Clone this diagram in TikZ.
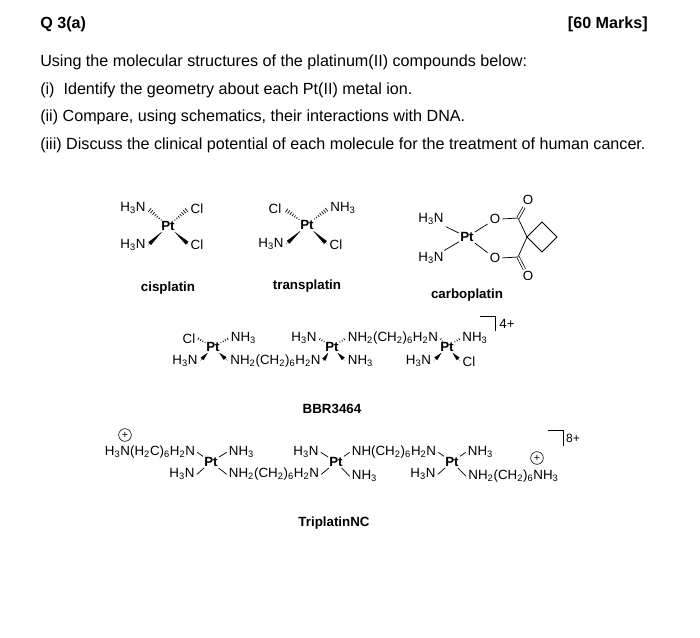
\documentclass[tikz,border=0pt]{standalone}
\usepackage{fontspec}
\setmainfont{Liberation Sans}
\usetikzlibrary{arrows.meta,decorations.markings}
\tikzset{
  question/.style={anchor=west, inner sep=0pt, yshift=-.75pt, font=\fontsize{12.1}{14}\selectfont},
  atom/.style={inner sep=1.5pt, yshift=-1pt, font=\fontsize{10}{12}\selectfont},
  metal/.style={inner sep=.8pt, font=\fontsize{10}{12}\selectfont\bfseries},
  title/.style={inner sep=0pt, yshift=-.75pt, font=\fontsize{10}{12}\selectfont\bfseries},
  charge/.style={circle, draw, line width=.45pt, inner sep=0pt, minimum size=9.5pt, font=\fontsize{8}{8}\selectfont},
  bond/.style={line width=.55pt},
  wedgebond/.style={{Triangle[length=#1,width=2.8pt]}-, line width=.05pt},
  wedgebond/.default=12.5pt,
  hashbond/.style={decorate, decoration={markings, mark=between positions 0 and .9 step 1.9pt with {
    \pgfmathsetmacro\hw{.25+.2*\pgfkeysvalueof{/pgf/decoration/mark info/sequence number}}
    \draw[line width=.5pt] (0,-\hw pt) -- (0,\hw pt);}}},
  bracket/.style={line width=.6pt}
}
\newcommand{\subs}[1]{\textsubscript{#1}}
\begin{document}
\begin{tikzpicture}[x=.75pt,y=-.75pt]
\useasboundingbox (0,0) rectangle (700,637);

\node[question, font=\fontsize{12.1}{14}\selectfont\bfseries] (qno) at (40,23) {Q 3(a)};
\node[question, anchor=east, font=\fontsize{12.1}{14}\selectfont\bfseries] (marks) at (648,23) {[60 Marks]};
\node[question] (intro) at (40,61) {Using the molecular structures of the platinum(II) compounds below:};
\node[question] (parti) at (40,89) {(i)\ \ Identify the geometry about each Pt(II) metal ion.};
\node[question] (partii) at (40,116) {(ii) Compare, using schematics, their interactions with DNA.};
\node[question] (partiii) at (40,144) {(iii) Discuss the clinical potential of each molecule for the treatment of human cancer.};

\node[metal] (cisPt) at (168,226) {Pt};
\node[atom] (cisA) at (133,207) {H\subs{3}N};
\node[atom] (cisB) at (133,244) {H\subs{3}N};
\node[atom] (cisC) at (197,207) {Cl};
\node[atom] (cisD) at (197,243) {Cl};
\path[hashbond] (cisPt) -- (cisA.east);
\path[hashbond] (cisPt) -- (cisC.west);
\draw[wedgebond] (cisPt) -- (cisB.east);
\draw[wedgebond] (cisPt) -- (cisD.west);
\node[title] (cislabel) at (168,287) {cisplatin};

\node[metal] (transPt) at (307,225) {Pt};
\node[atom] (transA) at (275,207) {Cl};
\node[atom] (transB) at (271,243) {H\subs{3}N};
\node[atom] (transC) at (343,207) {NH\subs{3}};
\node[atom] (transD) at (336,243) {Cl};
\path[hashbond] (transPt) -- (transA.east);
\path[hashbond] (transPt) -- (transC.west);
\draw[wedgebond] (transPt) -- (transB.east);
\draw[wedgebond] (transPt) -- (transD.west);
\node[title] (translabel) at (307,285) {transplatin};

\node[metal] (carbPt) at (467,237) {Pt};
\node[atom] (carbA) at (431,218) {H\subs{3}N};
\node[atom] (carbB) at (431,257) {H\subs{3}N};
\node[atom] (carbO1) at (495,218) {O};
\node[atom] (carbO2) at (495,257) {O};
\node[atom] (carbO3) at (528,199) {O};
\node[atom] (carbO4) at (528,275) {O};
\coordinate (carbC1) at (518,218);
\coordinate (carbC2) at (518,257);
\coordinate (carbQ) at (527,237);
\coordinate (ringA) at (542,222);
\coordinate (ringB) at (557,237);
\coordinate (ringC) at (542,252);
\draw[bond] (carbPt) -- (carbA);
\draw[bond] (carbPt) -- (carbB);
\draw[bond] (carbPt) -- (carbO1);
\draw[bond] (carbPt) -- (carbO2);
\draw[bond] (carbO1) -- (carbC1) -- (carbQ) -- (carbC2) -- (carbO2);
\draw[bond, double, double distance=1.3pt] (carbC1) -- (carbO3);
\draw[bond, double, double distance=1.3pt] (carbC2) -- (carbO4);
\draw[bond] (carbQ) -- (ringA) -- (ringB) -- (ringC) -- cycle;
\node[title] (carblabel) at (467,294) {carboplatin};

\node[metal] (bbrPtA) at (213,347) {Pt};
\node[atom] (bbrA) at (189,337) {Cl};
\node[atom] (bbrB) at (185,360) {H\subs{3}N};
\node[atom] (bbrC) at (243.5,337) {NH\subs{3}};
\node[atom] (bbrD) at (275.5,360) {NH\subs{2}(CH\subs{2})\subs{6}H\subs{2}N};
\node[metal] (bbrPtB) at (332,347) {Pt};
\node[atom] (bbrE) at (304,337) {H\subs{3}N};
\node[atom] (bbrF) at (393,337) {NH\subs{2}(CH\subs{2})\subs{6}H\subs{2}N};
\node[atom] (bbrG) at (360.5,360) {NH\subs{3}};
\node[metal] (bbrPtC) at (447,347) {Pt};
\node[atom] (bbrH) at (475,337) {NH\subs{3}};
\node[atom] (bbrI) at (418.5,360) {H\subs{3}N};
\node[atom] (bbrJ) at (469,360) {Cl};
\path[hashbond] (bbrPtA) -- (bbrA.east);
\path[hashbond] (bbrPtA) -- (bbrC.west);
\draw[wedgebond=6pt] (bbrPtA) -- (bbrB.east);
\draw[wedgebond=6pt] (bbrPtA) -- (bbrD.west);
\path[hashbond] (bbrPtB) -- (bbrE.east);
\path[hashbond] (bbrPtB) -- (bbrF.west);
\draw[wedgebond=6pt] (bbrPtB) -- (bbrD.east);
\draw[wedgebond=6pt] (bbrPtB) -- (bbrG.west);
\path[hashbond] (bbrPtC) -- (bbrF.east);
\path[hashbond] (bbrPtC) -- (bbrH.west);
\draw[wedgebond=6pt] (bbrPtC) -- (bbrI.east);
\draw[wedgebond=6pt] (bbrPtC) -- (bbrJ.west);
\draw[bracket] (480,316) -- (495,316) -- (495,331);
\node[atom] (bbrcharge) at (507,323) {4+};
\node[title] (bbrlabel) at (332,408) {BBR3464};

\node[charge] (plusA) at (125,435) {+};
\node[atom] (triA) at (150,451) {H\subs{3}N(H\subs{2}C)\subs{6}H\subs{2}N};
\node[metal] (triPtA) at (211,462) {Pt};
\node[atom] (triB) at (182,473) {H\subs{3}N};
\node[atom] (triC) at (241.5,451) {NH\subs{3}};
\node[atom] (triD) at (274,473) {NH\subs{2}(CH\subs{2})\subs{6}H\subs{2}N};
\node[metal] (triPtB) at (336,462) {Pt};
\node[atom] (triE) at (306,451) {H\subs{3}N};
\node[atom] (triF) at (394,451) {NH(CH\subs{2})\subs{6}H\subs{2}N};
\node[atom] (triG) at (364.5,475) {NH\subs{3}};
\node[metal] (triPtC) at (452,462) {Pt};
\node[atom] (triH) at (480.5,451) {NH\subs{3}};
\node[atom] (triI) at (423,473) {H\subs{3}N};
\node[atom] (triJ) at (513.5,475) {NH\subs{2}(CH\subs{2})\subs{6}NH\subs{3}};
\node[charge] (plusB) at (537,458) {+};
\draw[bond] (triPtA) -- (triA.east);
\draw[bond] (triPtA) -- (triB.east);
\draw[bond] (triPtA) -- (triC.west);
\draw[bond] (triPtA) -- (triD.west);
\draw[bond] (triPtB) -- (triD.east);
\draw[bond] (triPtB) -- (triE.east);
\draw[bond] (triPtB) -- (triF.west);
\draw[bond] (triPtB) -- (triG.west);
\draw[bond] (triPtC) -- (triF.east);
\draw[bond] (triPtC) -- (triH.west);
\draw[bond] (triPtC) -- (triI.east);
\draw[bond] (triPtC) -- (triJ.west);
\draw[bracket] (548,430) -- (563,430) -- (563,446);
\node[atom, font=\fontsize{9}{10}\selectfont\rmfamily] (tricharge) at (573,437) {8+};
\node[title] (trilabel) at (334,522) {TriplatinNC};
\end{tikzpicture}
\end{document}
